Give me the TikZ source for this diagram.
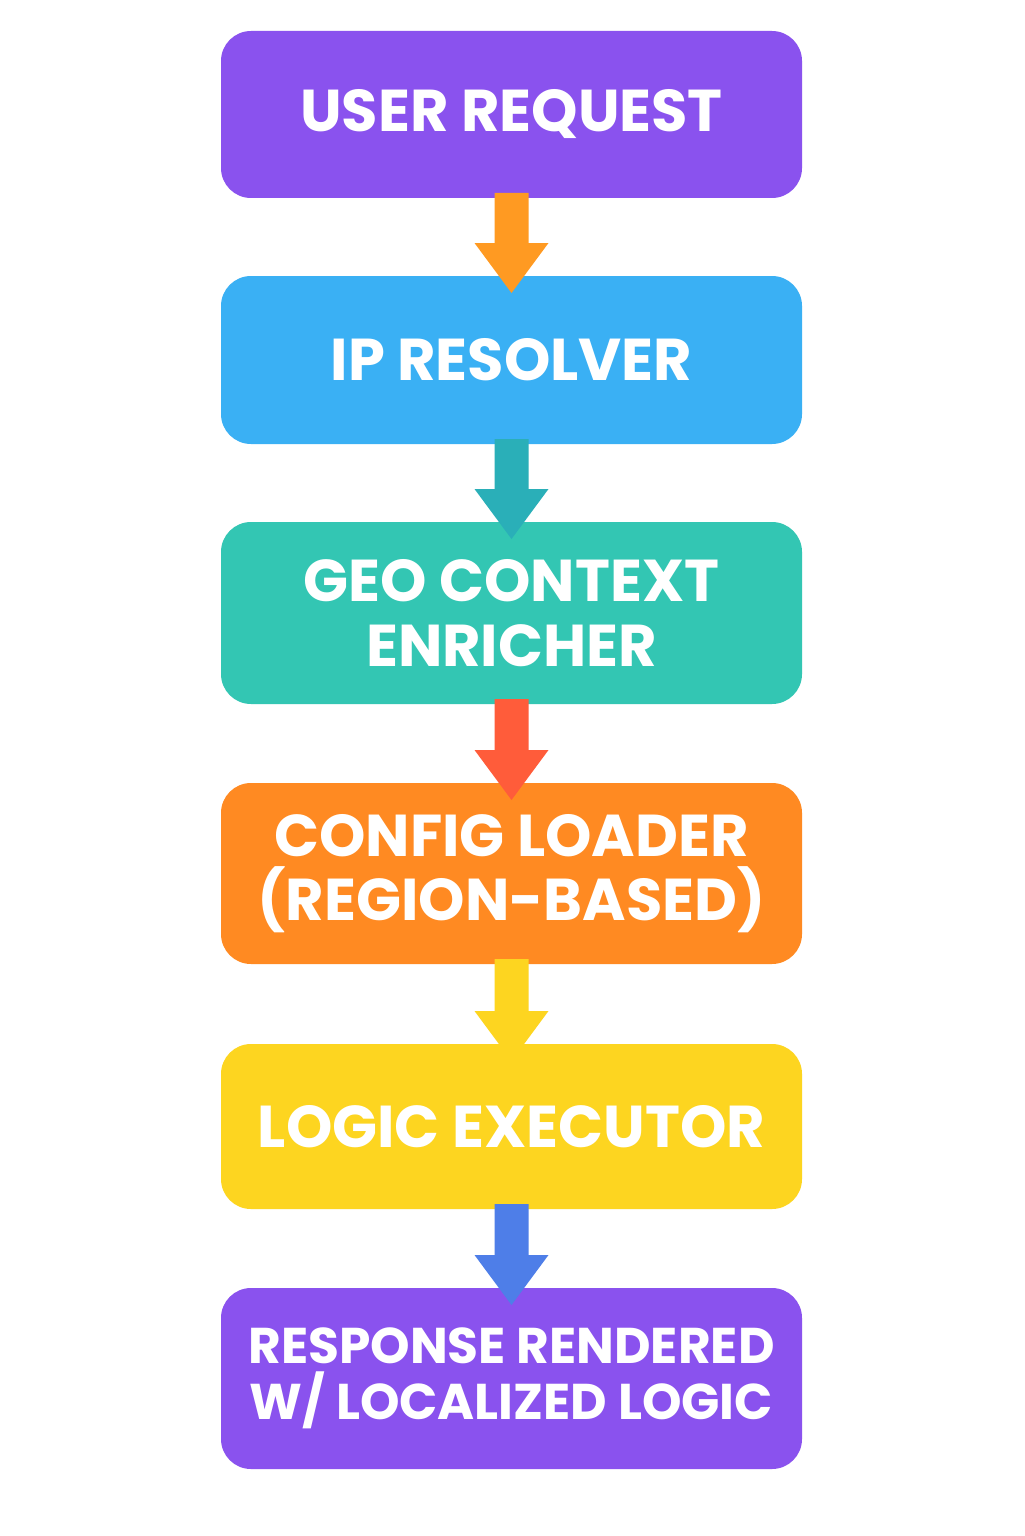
\documentclass[tikz,border=0pt]{standalone}
\usepackage{fontspec}
\setmainfont{Poppins}
\usetikzlibrary{calc,positioning}
\definecolor{cpurple}{HTML}{8A52EE}
\definecolor{cblue}{HTML}{3AB0F4}
\definecolor{cteal}{HTML}{33C6B3}
\definecolor{corange}{HTML}{FF8A22}
\definecolor{cyellow}{HTML}{FDD520}
\definecolor{aorange}{HTML}{FF9A22}
\definecolor{ateal}{HTML}{2AAFB8}
\definecolor{ared}{HTML}{FF5C3A}
\definecolor{ayellow}{HTML}{FDD520}
\definecolor{ablue}{HTML}{4E7EE8}
% one block arrow from the bottom of box #1 into the top of box #2
\newcommand{\flowarrow}[3]{%
  \fill [#3] ($(#1.south)+(-0.17,0.05)$) -- ($(#2.north)+(-0.17,0.33)$)
    -- ($(#2.north)+(-0.37,0.33)$) -- ($(#2.north)+(0,-0.17)$)
    -- ($(#2.north)+(0.37,0.33)$) -- ($(#2.north)+(0.17,0.33)$)
    -- ($(#1.south)+(0.17,0.05)$) -- cycle;}
\begin{document}
\begin{tikzpicture}[every node/.style={outer sep=0pt}]
\tikzstyle{box}=[rounded corners=0.3cm,minimum width=5.81cm,text=white,
  font=\fontsize{16.8}{18.4}\selectfont\bfseries,align=center,inner sep=0pt]
\useasboundingbox [fill=white] (0,0) rectangle (10.24,-15.36);

\node (user) [box,fill=cpurple,minimum height=1.67cm] at (5.115,-1.145) {USER REQUEST};
\node (resolver) [box,fill=cblue,minimum height=1.68cm] at (5.115,-3.60) {IP RESOLVER};
\node (enricher) [box,fill=cteal,minimum height=1.82cm] at (5.115,-6.13) {GEO CONTEXT\\ENRICHER};
\node (loader) [box,fill=corange,minimum height=1.81cm] at (5.115,-8.735) {CONFIG LOADER\\(REGION-BASED)};
\node (executor) [box,fill=cyellow,minimum height=1.65cm] at (5.115,-11.265) {LOGIC EXECUTOR};
\node (response) [box,fill=cpurple,minimum height=1.81cm,font=\fontsize{14.3}{16}\selectfont\bfseries] at (5.115,-13.785) {RESPONSE RENDERED\\W/ LOCALIZED LOGIC};

\flowarrow{user}{resolver}{aorange}
\flowarrow{resolver}{enricher}{ateal}
\flowarrow{enricher}{loader}{ared}
\flowarrow{loader}{executor}{ayellow}
\flowarrow{executor}{response}{ablue}
\end{tikzpicture}
\end{document}
